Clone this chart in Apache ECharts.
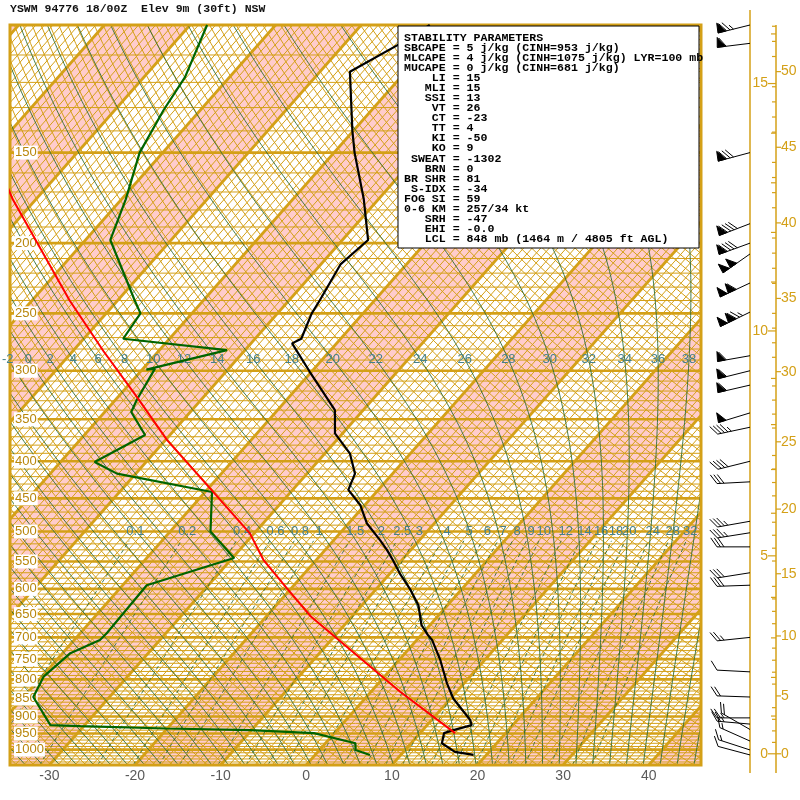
<!DOCTYPE html>
<html><head><meta charset="utf-8">
<script src="https://cdn.jsdelivr.net/npm/echarts@6/dist/echarts.min.js"></script>
<style>html,body{margin:0;padding:0;background:#fff}#c{width:800px;height:800px}</style>
</head><body><div id="c"></div>
<script>
// ---------------- DATA ----------------
const headerText = 'YSWM 94776 18/00Z  Elev 9m (30ft) NSW';
// Temperature profile (mb, degC)
const tempP = [1017,1007,980,949,940,925,910,850,810,752,706,695,673,632,602,574,547,530,514,487,460,438,416,390,366,340,301,275,271,250,240,214,198,174,150,140,116,106,100];
const tempT = [18.5,16.0,13.6,12.8,13.6,15.2,14.5,10.3,8.0,4.8,1.8,0.8,-1.0,-3.4,-5.9,-8.6,-11.1,-12.8,-14.6,-17.9,-20.5,-23.5,-24.4,-27.1,-30.9,-33.3,-40.2,-45.2,-44.6,-46.0,-46.4,-47.7,-47.0,-51.7,-57.6,-60.1,-66.5,-63.5,-62.0];
// Dewpoint profile
const dewP = [1017,1001,980,949,940,935,928,925,846,793,736,706,691,593,544,500,441,416,401,368,342,329,298,299,281,271,250,240,198,174,150,131,118,100];
const dewT = [6.4,4.2,3.5,-2.4,-10.2,-20.1,-30.4,-34.0,-38.9,-39.8,-39.1,-37.0,-36.9,-37.2,-29.8,-35.3,-39.2,-52.2,-56.0,-52.9,-56.9,-57.5,-58.6,-59.5,-52.1,-65.4,-66.0,-68.0,-77.1,-79.5,-82.7,-84.3,-85.2,-88.0];
// Lifted parcel path
const parcelP = [949,832,655,599,547,503,436,374,326,282,240,174,158];
const parcelT = [14.1,3.4,-14.8,-20.5,-26.2,-30.5,-39.8,-49.8,-57.8,-66.4,-75.6,-92.7,-97.3];
// Winds
const windP   = [100,106,150,188,200,207,227,249,286,300,314,343,359,400,427,484,502,525,570,593,700,781,846,904,922,938,973,1001,1017];
const windDir = [256,263,255,249,250,235,245,244,260,256,257,253,258,256,267,260,261,270,261,268,264,273,272,270,275,300,294,288,285];
const windSpd = [75,60,80,90,90,100,110,125,60,60,60,50,45,40,30,35,35,30,30,30,25,10,20,25,25,20,15,15,10];
// Tick / label lists
const pressureLabels = [150,200,250,300,350,400,450,500,550,600,650,700,750,800,850,900,950,1000];
const tempTicks = [-30,-20,-10,0,10,20,30,40];
const thetaWLabels = [-2,0,2,4,6,8,10,12,14,16,18,20,22,24,26,28,30,32,34,36,38];
const mixRatios = [0.1,0.2,0.4,0.6,0.8,1,1.5,2,2.5,3,4,5,6,7,8,9,10,12,14,16,18,20,24,28,32];
const kmTicks = [0,1,2,3,4,5,6,7,8,9,10,11,12,13,14,15,16];
const kmLabels = [0,5,10,15];
const kftTicks = Array.from({length:54},(_,i)=>i);
const kftLabels = [0,5,10,15,20,25,30,35,40,45,50];
const stabilityLines = [
'STABILITY PARAMETERS',
'SBCAPE = 5 j/kg (CINH=953 j/kg)',
'MLCAPE = 4 j/kg (CINH=1075 j/kg) LYR=100 mb',
'MUCAPE = 0 j/kg (CINH=681 j/kg)',
'    LI = 15',
'   MLI = 15',
'   SSI = 13',
'    VT = 26',
'    CT = -23',
'    TT = 4',
'    KI = -50',
'    KO = 9',
' SWEAT = -1302',
'   BRN = 0',
'BR SHR = 81',
' S-IDX = -34',
'FOG SI = 59',
'0-6 KM = 257/34 kt',
'   SRH = -47',
'   EHI = -0.0',
'   LCL = 848 mb (1464 m / 4805 ft AGL)'
];

// ---------------- DIAGRAM GEOMETRY ----------------
const GOLD = '#d4a017', PINK = '#ffcccc', MGREEN = '#2f6b35', LABEL_TEAL = '#46808a';
const SKEW = 32.5, P_BOT = 1050, P_TOP = 100, X_MIN = -34.6, X_MAX = 46.1;
const LN_RANGE = Math.log(P_BOT / P_TOP);
function sx(T, p) { return T + SKEW * Math.log(P_BOT / p); }

const Rd = 287.04, Cp = 1005.7, Lv = 2.501e6, EPS = 0.622;
function esW(Tc) { return 6.112 * Math.exp(17.67 * Tc / (Tc + 243.5)); }
function dTdlnp(TK, p) {
  const es = esW(TK - 273.15), ws = EPS * es / (p - es);
  return (Rd * TK + Lv * ws) / (Cp + Lv * Lv * ws * EPS / (Rd * TK * TK));
}
function moistPath(tw) {
  const h = 0.01;
  const up = []; let T = tw + 273.15, lp = Math.log(1000);
  up.push([T, 1000]);
  while (lp > Math.log(P_TOP)) {
    const k1 = dTdlnp(T, Math.exp(lp)), k2 = dTdlnp(T - h * k1, Math.exp(lp - h));
    T -= h * (k1 + k2) / 2; lp -= h; up.push([T, Math.exp(lp)]);
  }
  const down = []; T = tw + 273.15; lp = Math.log(1000);
  while (lp < Math.log(P_BOT)) {
    const k1 = dTdlnp(T, Math.exp(lp)), k2 = dTdlnp(T + h * k1, Math.exp(lp + h));
    T += h * (k1 + k2) / 2; lp += h; down.push([T, Math.exp(lp)]);
  }
  return down.reverse().concat(up).map(d => [d[0] - 273.15, d[1]]);
}
function tMix(w, p) {
  const e = w * p / (622 + w), a = Math.log(e / 6.112);
  let T = 243.5 * a / (17.67 - a);
  if (T < 0) T = 272.62 * a / (22.46 - a);
  return T;
}
function isaP(z) {
  if (z <= 11000) return 1013.25 * Math.pow(1 - 2.25577e-5 * z, 5.25588);
  return 226.32 * Math.exp(-(z - 11000) / 6341.62);
}

const bands = [], isoThin = [], isoThick = [], barThin = [], barThick = [], dryLines = [], moistLines = [], mixLines = [];
for (let T0 = -120; T0 <= 40; T0 += 20)
  bands.push([[sx(T0, P_BOT), P_BOT], [sx(T0 + 10, P_BOT), P_BOT], [sx(T0 + 10, P_TOP), P_TOP], [sx(T0, P_TOP), P_TOP]]);
for (let T = -120; T <= 50; T++) {
  const l = [[sx(T, P_BOT), P_BOT], [sx(T, P_TOP), P_TOP]];
  (T % 10 === 0 ? isoThick : isoThin).push(l);
}
for (let p = 110; p <= 1040; p += 10) {
  const l = [[X_MIN, p], [X_MAX, p]];
  (p % 50 === 0 ? barThick : barThin).push(l);
}
for (let th = 230; th <= 480; th += 2) {
  const pts = [];
  for (let i = 0; i <= 40; i++) {
    const p = P_BOT * Math.exp(-i * LN_RANGE / 40);
    pts.push([sx(th * Math.pow(p / 1000, 0.2857) - 273.15, p), p]);
  }
  dryLines.push(pts);
}
const moistLabelPos = {};
for (let tw = -40; tw <= 44; tw += 2) {
  const path = moistPath(tw);
  moistLines.push(path.map(d => [sx(d[0], d[1]), d[1]]));
  let best = path[0];
  path.forEach(d => { if (Math.abs(d[1] - 288) < Math.abs(best[1] - 288)) best = d; });
  moistLabelPos[tw] = [sx(best[0], best[1]), best[1]];
}
mixRatios.forEach(w => {
  const pts = [];
  for (let p = 1050; p >= 515; p -= 5) pts.push([sx(tMix(w, p), p), p]);
  mixLines.push(pts);
});

// ---------------- SERIES HELPERS ----------------
function lineFamily(lines, style, z) {
  return {
    type: 'custom', xAxisIndex: 0, yAxisIndex: 0, clip: true, silent: true, z: z,
    data: [[0, 500]],
    renderItem: function (params, api) {
      return { type: 'group', children: lines.map(pts => ({
        type: 'polyline', shape: { points: pts.map(d => api.coord(d)) },
        style: Object.assign({ fill: 'none' }, style)
      })) };
    }
  };
}
function textFamily(items, z) {
  return {
    type: 'custom', xAxisIndex: 0, yAxisIndex: 0, clip: false, silent: true, z: z,
    data: [[0, 500]],
    renderItem: function (params, api) {
      return { type: 'group', children: items.map(it => {
        const c = api.coord(it.pos);
        return { type: 'text', x: c[0] + (it.dx || 0), y: c[1] + (it.dy || 0), style: Object.assign({ text: it.text }, it.style) };
      }) };
    }
  };
}

const pLabelItems = pressureLabels.map(p => ({ pos: [X_MIN, p], dx: 4, text: String(p),
  style: { align: 'left', verticalAlign: 'middle', font: '13px "Liberation Sans", Arial', fill: '#b8860b', backgroundColor: '#fff', padding: [1, 1, 0, 1] } }));
const twLabelItems = thetaWLabels.map(t => ({ pos: moistLabelPos[t], text: String(t),
  style: { align: 'center', verticalAlign: 'middle', font: '13px "Liberation Sans", Arial', fill: LABEL_TEAL } }));
const mixLabelItems = mixRatios.map(w => ({ pos: [sx(tMix(w, 500), 500), 500], text: String(w),
  style: { align: 'center', verticalAlign: 'middle', font: '13px "Liberation Sans", Arial', fill: LABEL_TEAL } }));

const series = [
  { type: 'custom', xAxisIndex: 0, yAxisIndex: 0, clip: true, silent: true, z: 1, data: [[0, 500]],
    renderItem: function (params, api) {
      return { type: 'group', children: bands.map(b => ({ type: 'polygon', shape: { points: b.map(d => api.coord(d)) }, style: { fill: PINK } })) };
    } },
  lineFamily(barThin, { stroke: GOLD, lineWidth: 1 }, 2),
  lineFamily(isoThin, { stroke: GOLD, lineWidth: 1 }, 2),
  lineFamily(dryLines, { stroke: GOLD, lineWidth: 1 }, 2),
  lineFamily(barThick, { stroke: GOLD, lineWidth: 2.6 }, 3),
  lineFamily(isoThick, { stroke: GOLD, lineWidth: 2.8 }, 3),
  lineFamily(moistLines, { stroke: MGREEN, lineWidth: 0.9 }, 3),
  lineFamily(mixLines, { stroke: MGREEN, lineWidth: 0.9, lineDash: [4, 3] }, 3),
  { type: 'custom', xAxisIndex: 0, yAxisIndex: 0, clip: false, silent: true, z: 4, data: [[0, 500]],
    renderItem: function (params, api) {
      const a = api.coord([X_MIN, P_TOP]), b = api.coord([X_MAX, P_BOT]);
      return { type: 'rect', shape: { x: a[0], y: a[1], width: b[0] - a[0], height: b[1] - a[1] }, style: { fill: 'none', stroke: GOLD, lineWidth: 3 } };
    } },
  textFamily(pLabelItems, 5),
  textFamily(twLabelItems, 5),
  textFamily(mixLabelItems, 5),
  { type: 'line', xAxisIndex: 0, yAxisIndex: 0, z: 8, clip: false, symbol: 'none', silent: true,
    data: parcelP.map((p, i) => [sx(parcelT[i], p), p]), lineStyle: { color: '#ff0000', width: 2 } },
  { type: 'line', xAxisIndex: 0, yAxisIndex: 0, z: 7, clip: true, symbol: 'none', silent: true,
    data: dewP.map((p, i) => [sx(dewT[i], p), p]), lineStyle: { color: '#006400', width: 2.2 } },
  { type: 'line', xAxisIndex: 0, yAxisIndex: 0, z: 7, clip: true, symbol: 'none', silent: true,
    data: tempP.map((p, i) => [sx(tempT[i], p), p]), lineStyle: { color: '#000', width: 2.2 } },
  // wind barbs
  { type: 'custom', xAxisIndex: 1, yAxisIndex: 1, clip: false, silent: true, z: 6,
    data: windP.map((p, i) => [1, p, windDir[i], windSpd[i]]),
    renderItem: function (params, api) {
      const c = api.coord([api.value(0), api.value(1)]);
      const d = api.value(2) * Math.PI / 180, spd = api.value(3);
      const ux = Math.sin(d), uy = -Math.cos(d), nx = -uy, ny = ux;
      const L = 33, tx = c[0] + L * ux, ty = c[1] + L * uy;
      const fx = 0.82 * nx + 0.57 * ux, fy = 0.82 * ny + 0.57 * uy;
      const ch = [{ type: 'line', shape: { x1: c[0], y1: c[1], x2: tx, y2: ty }, style: { stroke: '#000', lineWidth: 1 } }];
      let s = Math.round(spd / 5) * 5, pos = 0;
      while (s >= 50) {
        const p0 = [tx - pos * ux, ty - pos * uy], p1 = [tx - (pos + 8) * ux, ty - (pos + 8) * uy];
        const ap = [p1[0] + 12 * fx, p1[1] + 12 * fy];
        ch.push({ type: 'polygon', shape: { points: [p0, p1, ap] }, style: { fill: '#000', stroke: '#000', lineWidth: 1 } });
        pos += 9; s -= 50;
      }
      while (s >= 10) {
        const p0 = [tx - pos * ux, ty - pos * uy];
        ch.push({ type: 'line', shape: { x1: p0[0], y1: p0[1], x2: p0[0] + 11 * fx, y2: p0[1] + 11 * fy }, style: { stroke: '#000', lineWidth: 1 } });
        pos += 3.5; s -= 10;
      }
      if (s >= 5) {
        if (pos === 0) pos = 3.5;
        const p0 = [tx - pos * ux, ty - pos * uy];
        ch.push({ type: 'line', shape: { x1: p0[0], y1: p0[1], x2: p0[0] + 6 * fx, y2: p0[1] + 6 * fy }, style: { stroke: '#000', lineWidth: 1 } });
      }
      return { type: 'group', children: ch };
    } },
  // height axes
  { type: 'custom', xAxisIndex: 1, yAxisIndex: 1, clip: false, silent: true, z: 5, data: [[1, 500]],
    renderItem: function (params, api) {
      const bx = api.coord([1, P_BOT])[0], yTop = api.coord([1, P_TOP])[1], yBot = api.coord([1, P_BOT])[1];
      const ax = bx + 26;
      const ch = [
        { type: 'line', shape: { x1: bx, y1: yTop - 15, x2: bx, y2: yBot + 8 }, style: { stroke: GOLD, lineWidth: 1.5 } },
        { type: 'line', shape: { x1: ax, y1: yTop, x2: ax, y2: yBot + 8 }, style: { stroke: GOLD, lineWidth: 1.5 } }
      ];
      const font = '14px "Liberation Sans", Arial';
      kftTicks.forEach(k => {
        const p = isaP(k * 304.8); if (p < P_TOP) return;
        const y = api.coord([1, p])[1];
        if (kftLabels.indexOf(k) >= 0) {
          ch.push({ type: 'line', shape: { x1: ax, y1: y, x2: ax + 5, y2: y }, style: { stroke: GOLD, lineWidth: 1.2 } });
          ch.push({ type: 'text', x: ax + 5, y: y, style: { text: String(k), align: 'left', verticalAlign: 'middle', font: font, fill: GOLD } });
        } else {
          ch.push({ type: 'line', shape: { x1: ax - 4, y1: y, x2: ax, y2: y }, style: { stroke: GOLD, lineWidth: 1.2 } });
        }
      });
      kmTicks.forEach(k => {
        const p = isaP(k * 1000); if (p < P_TOP) return;
        const y = api.coord([1, p])[1];
        const lab = kmLabels.indexOf(k) >= 0;
        ch.push({ type: 'line', shape: { x1: ax - (lab ? 8 : 5), y1: y, x2: ax, y2: y }, style: { stroke: GOLD, lineWidth: 1.2 } });
        if (lab) ch.push({ type: 'text', x: ax - 8, y: y, style: { text: String(k), align: 'right', verticalAlign: 'middle', font: font, fill: GOLD } });
      });
      return { type: 'group', children: ch };
    } }
];

const chart = echarts.init(document.getElementById('c'), null, { renderer: 'canvas' });
chart.setOption({
  animation: false,
  backgroundColor: '#fff',
  grid: [
    { left: 10, right: 99, top: 25, bottom: 35, backgroundColor: '#fff', show: true, borderWidth: 0 },
    { left: 705, width: 45, top: 25, bottom: 35, show: false }
  ],
  xAxis: [
    { type: 'value', gridIndex: 0, min: X_MIN, max: X_MAX,
      axisLine: { show: false }, axisTick: { show: false }, splitLine: { show: false },
      axisLabel: { customValues: tempTicks, color: '#5a5a5a', fontSize: 14, margin: 4, fontFamily: '"Liberation Sans", Arial' } },
    { type: 'value', gridIndex: 1, min: 0, max: 1, show: false }
  ],
  yAxis: [
    { type: 'log', gridIndex: 0, min: P_TOP, max: P_BOT, inverse: true, show: false },
    { type: 'log', gridIndex: 1, min: P_TOP, max: P_BOT, inverse: true, show: false }
  ],
  graphic: [
    { type: 'text', left: 10, top: 3, z: 100, style: { text: headerText, font: 'bold 11.5px "Liberation Mono", monospace', fill: '#111' } },
    { type: 'rect', z: 100, shape: { x: 398, y: 26, width: 301, height: 222 }, style: { fill: '#fff', stroke: '#000', lineWidth: 1 } },
    { type: 'text', left: 404, top: 32, z: 101, style: { text: stabilityLines.join('\n'), font: 'bold 11.6px "Liberation Mono", monospace', lineHeight: 10.05, fill: '#000' } }
  ],
  series: series
});
</script></body></html>
